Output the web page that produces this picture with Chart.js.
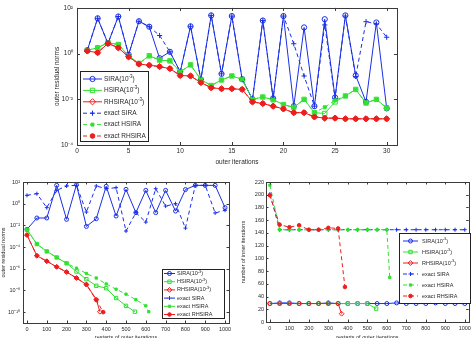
<!DOCTYPE html>
<html>
<head>
<meta charset="utf-8">
<script src="https://cdn.jsdelivr.net/npm/chart.js@4.4.0/dist/chart.umd.min.js"></script>
<style>
  body { margin: 0; background: #fff; width: 474px; height: 338px; overflow: hidden; position: relative; }
  canvas { position: absolute; }
</style>
</head>
<body>
<canvas id="topChart" width="474" height="172" style="left:0;top:0"></canvas>
<canvas id="leftChart" width="238" height="176" style="left:0;top:172px"></canvas>
<canvas id="rightChart" width="236" height="176" style="left:238px;top:172px"></canvas>
<script>
// top panel: residual norm per outer iteration
const outerIters = [1, 2, 3, 4, 5, 6, 7, 8, 9, 10, 11, 12, 13, 14, 15, 16, 17, 18, 19, 20, 21, 22, 23, 24, 25, 26, 27, 28, 29, 30];
const siraNorms = [1.4, 35, 2.8, 42, 0.9, 26, 15, 0.63, 1.2, 0.16, 15.6, 0.073, 47, 0.13, 44, 0.075, 0.01, 28, 0.011, 44, 0.005, 14, 0.005, 32, 0.012, 47, 0.11, 0.0077, 23, 0.004];
const hsiraNorms = [1.4, 1.8, 3.0, 2.5, 0.8, 0.37, 0.8, 0.52, 0.48, 0.16, 0.32, 0.073, 0.04, 0.07, 0.105, 0.075, 0.0099, 0.0126, 0.0095, 0.0059, 0.0044, 0.0099, 0.0026, 0.0024, 0.0077, 0.014, 0.027, 0.0069, 0.0099, 0.0042];
const rhsiraNorms = [1.3, 1.1, 2.8, 1.8, 0.72, 0.35, 0.31, 0.27, 0.22, 0.11, 0.105, 0.054, 0.032, 0.029, 0.029, 0.027, 0.0077, 0.0065, 0.005, 0.0038, 0.0026, 0.0026, 0.0017, 0.0015, 0.0015, 0.0014, 0.0014, 0.0014, 0.0014, 0.0014];
const exactSiraNorms = [1.4, 35, 2.8, 42, 0.9, 26, 15, 6.2, 1.2, 0.16, 15.6, 0.073, 47, 0.13, 44, 0.075, 0.01, 28, 0.011, 44, 2.7, 0.105, 0.005, 18, 0.011, 44, 0.1, 25, 20, 5.2];
const exactHsiraNorms = [1.4, 1.8, 3.0, 2.5, 0.8, 0.37, 0.8, 0.52, 0.48, 0.16, 0.32, 0.073, 0.04, 0.07, 0.105, 0.075, 0.0099, 0.0126, 0.0095, 0.0059, 0.0044, 0.0099, 0.0026, 0.0045, 0.009, 0.014, 0.027, 0.0069, 0.0099, 0.0042];
const exactRhsiraNorms = [1.3, 1.1, 2.8, 1.8, 0.72, 0.35, 0.31, 0.27, 0.22, 0.11, 0.105, 0.054, 0.032, 0.029, 0.029, 0.027, 0.0077, 0.0065, 0.005, 0.0038, 0.0026, 0.0026, 0.0017, 0.0015, 0.0015, 0.0014, 0.0014, 0.0014, 0.0014, 0.0014];

// bottom panels: restarts of outer iterations
const restartsSira = [0, 50, 100, 150, 200, 250, 300, 350, 400, 450, 500, 550, 600, 650, 700, 750, 800, 850, 900, 950, 1000];
const restartsHsira = [0, 50, 100, 150, 200, 250, 300, 350, 400, 450, 500, 545];
const restartsExactHsira = [0, 50, 100, 150, 200, 250, 300, 350, 400, 450, 500, 550, 600, 615];
const restartsRhsira = [0, 50, 100, 150, 200, 250, 300, 350, 368];
const restartsExactRhsira = [0, 50, 100, 150, 200, 250, 300, 350, 385];

const siraRes = [0.0043, 0.048, 0.048, 49, 0.036, 56, 0.008, 0.041, 40, 0.073, 21, 0.15, 17, 0.15, 17, 0.21, 20, 49, 49, 49, 0.43];
const exactSiraRes = [5.9, 8.4, 0.43, 17, 43, 50, 0.17, 43, 24, 30, 0.003, 0.15, 0.02, 24, 0.6, 1, 0.0056, 49, 49, 0.14, 0.25];
const hsiraRes = [0.004, 1.9e-4, 4e-5, 1.1e-5, 3.2e-6, 5.6e-7, 1.1e-7, 2.7e-8, 1.6e-8, 2e-9, 3.8e-10, 1.1e-10];
const exactHsiraRes = [0.004, 1.9e-4, 4e-5, 1.1e-5, 3.2e-6, 1.15e-6, 3.7e-7, 1.4e-7, 4e-8, 1.3e-8, 4.6e-9, 1.4e-9, 3.8e-10, 1.1e-10];
const rhsiraRes = [1.3e-3, 1.6e-5, 5e-6, 1.5e-6, 5e-7, 1.4e-7, 3.5e-8, 1.5e-9, 1.1e-10];
const exactRhsiraRes = [1.3e-3, 1.6e-5, 5e-6, 1.5e-6, 5e-7, 1.4e-7, 3.5e-8, 1.3e-9, 1e-10];

const siraInner = [29, 30, 30, 29, 29, 29, 30, 29, 29, 29, 29, 29, 29, 30, 29, 29, 29, 30, 29, 29, 29];
const exactSiraInner = [201, 145, 145, 145, 145, 145, 145, 145, 145, 145, 145, 145, 145, 145, 145, 145, 145, 145, 145, 145, 145];
const hsiraInner = [29, 29, 29, 29, 29, 29, 29, 29, 29, 29, 29, 21];
const exactHsiraInner = [215, 145, 145, 145, 145, 145, 145, 145, 145, 145, 145, 145, 145, 70];
const rhsiraInner = [29, 29, 29, 29, 29, 29, 29, 29, 13];
const exactRhsiraInner = [199, 153, 149, 152, 145, 145, 148, 147, 55];

const methodLabels = ['SIRA(10^-3)', 'HSIRA(10^-3)', 'RHSIRA(10^-3)', 'exact SIRA', 'exact HSIRA', 'exact RHSIRA'];
const iterTicks = [0, 5, 10, 15, 20, 25, 30];
const restartTicks = [0, 100, 200, 300, 400, 500, 600, 700, 800, 900, 1000];
const topNormTicks = [1e-4, 1e-2, 1, 1e2];
const bottomNormTicks = [1e-10, 1e-8, 1e-6, 1e-4, 1e-2, 1, 1e2];
const innerTicks = [0, 20, 40, 60, 80, 100, 120, 140, 160, 180, 200, 220];

const BLUE = '#1a2ee8', GREEN = '#30e030', RED = '#ee1c1c';
const TEXT = '#2a2a2a';
const FONT = '"Liberation Sans", Arial, Helvetica, sans-serif';

// one look per method, same order as methodLabels
const LOOK = [
    { color: BLUE, dash: [], point: 'circle', filled: false, size: 1 },
    { color: GREEN, dash: [], point: 'rect', filled: false, size: 1.2 },
    { color: RED, dash: [], point: 'rectRot', filled: false, size: 1.2 },
    { color: BLUE, dash: [4, 3], point: 'cross', filled: false, size: 1 },
    { color: GREEN, dash: [4, 3], point: 'rect', filled: true, size: 0.8 },
    { color: RED, dash: [4, 3], point: 'circle', filled: true, size: 0.9 }
];

function buildDatasets(pairs, radius) {
    return pairs.map(([xs, ys], i) => {
        const s = LOOK[i];
        return {
            label: methodLabels[i],
            data: xs.map((x, k) => ({ x: x, y: ys[k] })),
            borderColor: s.color,
            backgroundColor: s.color,
            borderWidth: 1,
            borderDash: s.dash,
            pointStyle: s.point,
            pointRadius: radius * s.size,
            pointBorderWidth: 1,
            pointBorderColor: s.color,
            pointBackgroundColor: s.filled ? s.color : 'rgba(0,0,0,0)',
            tension: 0,
            fill: false,
            order: 6 - i
        };
    });
}

const SUP = { '-': '\u207B', '0': '\u2070', '1': '\u00B9', '2': '\u00B2', '3': '\u00B3', '4': '\u2074', '5': '\u2075', '6': '\u2076', '7': '\u2077', '8': '\u2078', '9': '\u2079' };
function pow10Label(v) {
    const e = Math.round(Math.log10(v));
    return '10' + String(e).split('').map(c => SUP[c]).join('');
}

function drawMarker(ctx, look, x, y, r) {
    ctx.save();
    ctx.setLineDash([]);
    ctx.strokeStyle = look.color;
    ctx.fillStyle = look.filled ? look.color : 'rgba(0,0,0,0)';
    ctx.lineWidth = 1;
    if (Chart.helpers && Chart.helpers.drawPoint) {
        Chart.helpers.drawPoint(ctx, { pointStyle: look.point, radius: r * look.size, rotation: 0, borderWidth: 1 }, x, y);
    }
    ctx.restore();
}

// box, inward ticks and a matlab style legend
const matlabFrame = {
    id: 'matlabFrame',
    afterDraw(chart, args, opts) {
        const { ctx, chartArea: a, scales } = chart;
        ctx.save();
        ctx.strokeStyle = '#3a3a3a';
        ctx.lineWidth = 1;
        ctx.strokeRect(Math.round(a.left) + 0.5, Math.round(a.top) + 0.5, Math.round(a.right - a.left), Math.round(a.bottom - a.top));
        const len = opts.tick;
        ctx.beginPath();
        scales.x.ticks.forEach(t => {
            const px = Math.round(scales.x.getPixelForValue(t.value)) + 0.5;
            ctx.moveTo(px, a.bottom); ctx.lineTo(px, a.bottom - len);
            ctx.moveTo(px, a.top); ctx.lineTo(px, a.top + len);
        });
        scales.y.ticks.forEach(t => {
            const py = Math.round(scales.y.getPixelForValue(t.value)) + 0.5;
            ctx.moveTo(a.left, py); ctx.lineTo(a.left + len, py);
            ctx.moveTo(a.right, py); ctx.lineTo(a.right - len, py);
        });
        ctx.stroke();

        // legend
        const L = opts.legend;
        ctx.fillStyle = '#fff';
        ctx.fillRect(L.left, L.top, L.width, L.height);
        ctx.strokeStyle = '#222';
        ctx.strokeRect(L.left + 0.5, L.top + 0.5, L.width, L.height);
        chart.data.datasets.forEach((ds, i) => {
            const look = LOOK[i];
            const y = L.firstRow + i * L.rowH;
            ctx.strokeStyle = look.color;
            ctx.lineWidth = 1;
            ctx.setLineDash(look.dash);
            ctx.beginPath();
            ctx.moveTo(L.sampleX, y); ctx.lineTo(L.sampleX + L.sampleLen, y);
            ctx.stroke();
            drawMarker(ctx, look, L.sampleX + L.sampleLen / 2, y, L.marker);
            ctx.setLineDash([]);
            ctx.fillStyle = TEXT;
            ctx.textBaseline = 'middle';
            ctx.textAlign = 'left';
            ctx.font = L.font + 'px ' + FONT;
            const m = ds.label.match(/^(.*10)\^(-?\d+)(.*)$/);
            let x = L.textX;
            if (m) {
                ctx.fillText(m[1], x, y); x += ctx.measureText(m[1]).width;
                ctx.font = (L.font * 0.7) + 'px ' + FONT;
                ctx.fillText(m[2], x, y - L.font * 0.35); x += ctx.measureText(m[2]).width;
                ctx.font = L.font + 'px ' + FONT;
                ctx.fillText(m[3], x, y);
            } else {
                ctx.fillText(ds.label, x, y);
            }
        });
        ctx.restore();
    }
};

function axis(cfg) {
    const s = {
        type: cfg.type,
        min: cfg.min,
        max: cfg.max,
        afterBuildTicks: sc => { sc.ticks = cfg.ticks.map(v => ({ value: v })); },
        afterFit: sc => { if (cfg.width !== undefined) sc.width = cfg.width; if (cfg.height !== undefined) sc.height = cfg.height; },
        grid: { display: false, drawTicks: false, tickLength: 0 },
        border: { display: false },
        ticks: {
            autoSkip: false, maxRotation: 0, padding: cfg.pad, color: TEXT,
            font: { family: FONT, size: cfg.font },
            callback: cfg.type === 'logarithmic' ? (v => pow10Label(v)) : (v => String(v))
        },
        title: {
            display: true, text: cfg.title, color: TEXT,
            font: { family: FONT, size: cfg.font },
            padding: cfg.titlePad
        }
    };
    return s;
}

function makeChart(id, datasets, xCfg, yCfg, padding, frame) {
    return new Chart(document.getElementById(id), {
        type: 'line',
        data: { datasets: datasets },
        options: {
            responsive: false,
            animation: false,
            devicePixelRatio: 1,
            layout: { padding: padding },
            plugins: { legend: { display: false }, tooltip: { enabled: false }, matlabFrame: frame },
            scales: { x: axis(xCfg), y: axis(yCfg) }
        },
        plugins: [matlabFrame]
    });
}

makeChart('topChart',
    buildDatasets([
        [outerIters, siraNorms], [outerIters, hsiraNorms], [outerIters, rhsiraNorms],
        [outerIters, exactSiraNorms], [outerIters, exactHsiraNorms], [outerIters, exactRhsiraNorms]
    ], 2.6),
    { type: 'linear', min: 0, max: 31, ticks: iterTicks, height: 27, pad: 2, font: 6.5, title: 'outer iterations', titlePad: { top: 0, bottom: 6 } },
    { type: 'logarithmic', min: 1e-4, max: 1e2, ticks: topNormTicks, width: 77, pad: 4, font: 6.5, title: 'outer residual norms', titlePad: { top: 53, bottom: 0 } },
    { top: 6, right: 77, left: 0, bottom: 0 },
    { tick: 3, legend: { left: 80, top: 71, width: 68, height: 70, firstRow: 79, rowH: 11.4, sampleX: 83, sampleLen: 19, textX: 104, marker: 2.6, font: 6.5 } }
);

makeChart('leftChart',
    buildDatasets([
        [restartsSira, siraRes], [restartsHsira, hsiraRes], [restartsRhsira, rhsiraRes],
        [restartsSira, exactSiraRes], [restartsExactHsira, exactHsiraRes], [restartsExactRhsira, exactRhsiraRes]
    ], 2),
    { type: 'linear', min: -20, max: 1020, ticks: restartTicks, height: 25, pad: 3, font: 5.5, title: 'restarts of outer iterations', titlePad: { top: 0, bottom: 7 } },
    { type: 'logarithmic', min: 1e-11, max: 1e2, ticks: bottomNormTicks, width: 23, pad: 3, font: 5.5, title: 'outer residual norms', titlePad: { top: 0, bottom: 0 } },
    { top: 10, right: 9, left: 0, bottom: 0 },
    { tick: 2.5, legend: { left: 162, top: 97, width: 62, height: 49, firstRow: 101.5, rowH: 8.2, sampleX: 164, sampleLen: 11, textX: 177, marker: 2, font: 5.5 } }
);

makeChart('rightChart',
    buildDatasets([
        [restartsSira, siraInner], [restartsHsira, hsiraInner], [restartsRhsira, rhsiraInner],
        [restartsSira, exactSiraInner], [restartsExactHsira, exactHsiraInner], [restartsExactRhsira, exactRhsiraInner]
    ], 2),
    { type: 'linear', min: -20, max: 1020, ticks: restartTicks, height: 26, pad: 3, font: 5.5, title: 'restarts of outer iterations', titlePad: { top: 0, bottom: 7 } },
    { type: 'linear', min: 0, max: 220, ticks: innerTicks, width: 28, pad: 2, font: 5.5, title: 'number of inner iterations', titlePad: { top: 2, bottom: 0 } },
    { top: 10, right: 3, left: 0, bottom: 0 },
    { tick: 2.5, legend: { left: 161, top: 61, width: 71, height: 70, firstRow: 69, rowH: 11, sampleX: 165, sampleLen: 15, textX: 184, marker: 2, font: 5.5 } }
);
</script>
</body>
</html>
